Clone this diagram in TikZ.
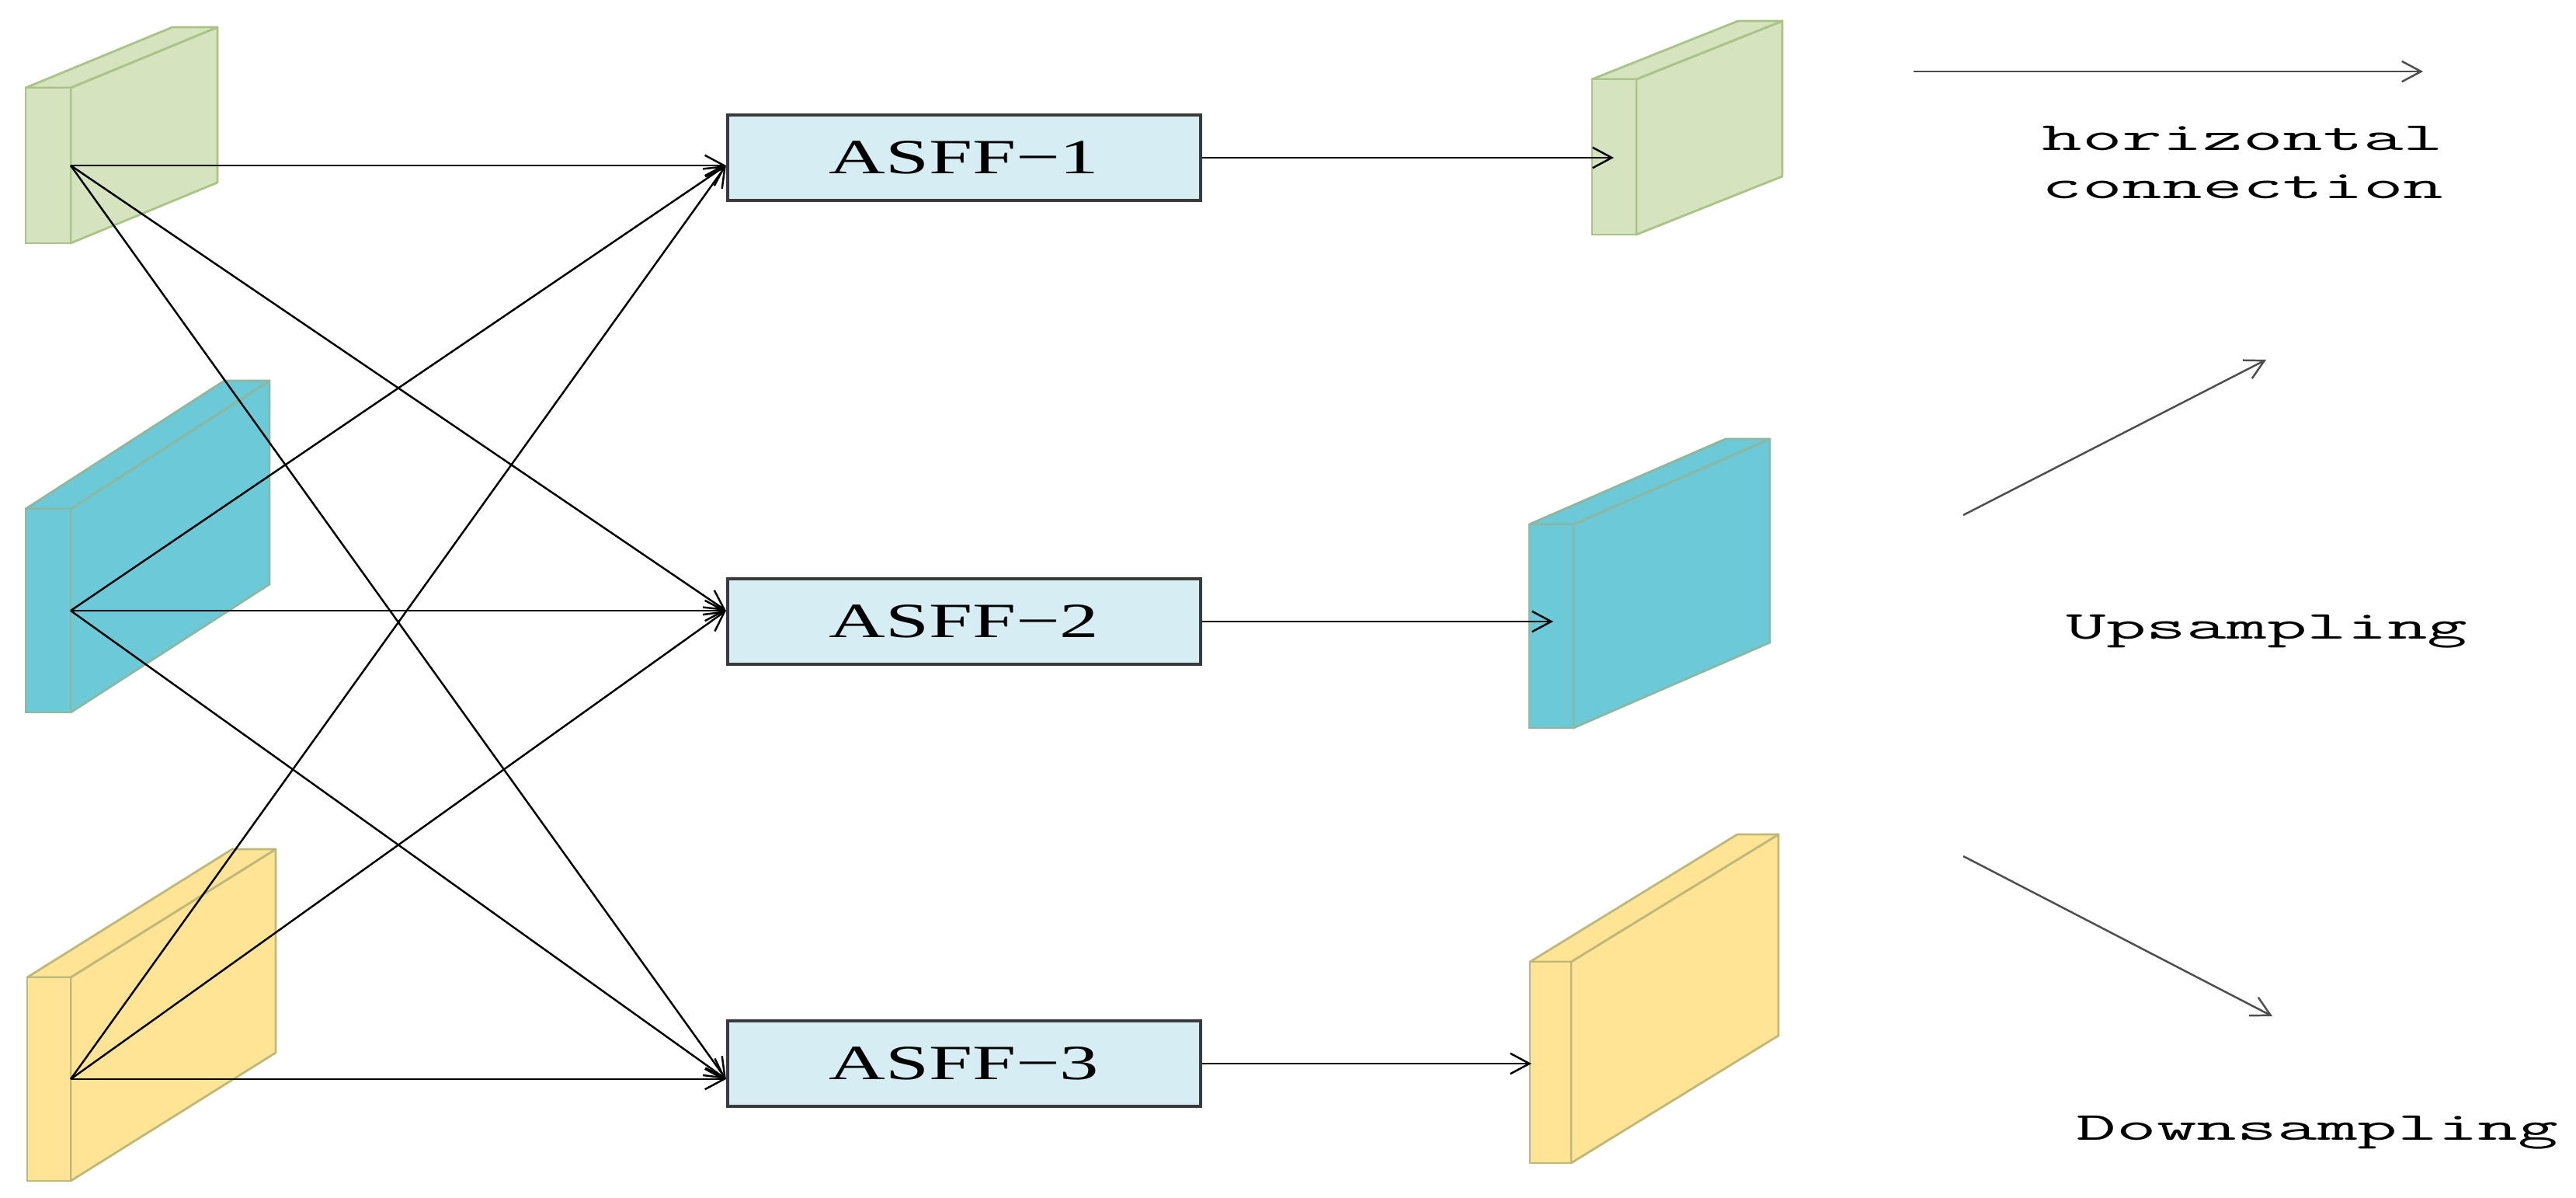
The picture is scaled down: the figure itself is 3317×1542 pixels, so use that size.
\documentclass[tikz,border=0pt]{standalone}
\usepackage{fontspec}
\usepackage{graphicx}
\usetikzlibrary{arrows.meta}
\newfontfamily\asfffont{Liberation Serif}
\definecolor{gfill}{HTML}{D5E3BE}
\definecolor{gline}{HTML}{A9C486}
\definecolor{cfill}{HTML}{6CC9D8}
\definecolor{cline}{HTML}{8CB8A0}
\definecolor{yfill}{HTML}{FFE496}
\definecolor{yline}{HTML}{BEB978}
\definecolor{boxfill}{HTML}{D6EDF3}
\definecolor{boxline}{HTML}{3A3A3A}
\definecolor{legline}{HTML}{4D4D4D}
% #1 x1, #2 y1, #3 x2, #4 y2, #5 dx, #6 dy, #7 fill, #8 stroke
\newcommand\featblock[8]{%
  \filldraw[fill=#7,draw=#8,line width=0.8pt,line join=round]
    (#3,#2) -- ({#3+#5},{#2+#6}) -- ({#3+#5},{#4+#6}) -- (#3,#4) -- cycle;
  \filldraw[fill=#7,draw=#8,line width=0.8pt,line join=round]
    (#1,#2) -- ({#1+#5},{#2+#6}) -- ({#3+#5},{#2+#6}) -- (#3,#2) -- cycle;
  \filldraw[fill=#7,draw=#8,line width=0.8pt] (#1,#2) rectangle (#3,#4);
}
\newcommand\widetxt[1]{\scalebox{1.97}[1]{#1}}
\newcommand\asfftxt[1]{\scalebox{1.59}[1]{#1}}
\begin{document}
\begin{tikzpicture}[x=0.01cm,y=-0.01cm,
  asff/.style={draw=boxline,fill=boxfill,line width=1.1pt,rectangle,
    minimum width=6.09cm,minimum height=1.10cm,inner sep=0pt,
    font=\asfffont\fontsize{18}{21}\selectfont},
  legtext/.style={inner sep=0pt,align=center,
    font=\ttfamily\fontsize{14.5}{17.6}\selectfont},
  arr/.style={-{Straight Barb[length=7pt,width=7.5pt]},line width=0.7pt,black},
  legarr/.style={-{Straight Barb[length=7pt,width=7.5pt]},line width=0.7pt,legline}]
\useasboundingbox (0,0) rectangle (3317,1542);
\fill[white] (0,0) rectangle (3317,1542);

% left feature blocks
\featblock{33}{113}{91}{313}{189}{-78}{gfill}{gline}
\featblock{33}{655}{91}{917}{256}{-165}{cfill}{cline}
\featblock{35}{1258}{91}{1520}{264}{-165}{yfill}{yline}
\coordinate (L1) at (91,213);
\coordinate (L2) at (91,786);
\coordinate (L3) at (91,1389);

% ASFF boxes
\node[asff] (a1) at (1241.5,203) {\asfftxt{ASFF−1}};
\node[asff] (a2) at (1241.5,800) {\asfftxt{ASFF−2}};
\node[asff] (a3) at (1241.5,1369) {\asfftxt{ASFF−3}};

% right feature blocks
\featblock{2050}{102}{2107}{302}{188}{-75}{gfill}{gline}
\featblock{1969}{675}{2026}{937}{253}{-110}{cfill}{cline}
\featblock{1970}{1238}{2023}{1497}{267}{-164}{yfill}{yline}
\coordinate (R1) at (2078,203);
\coordinate (R2) at (2000,800);
\coordinate (R3) at (1972,1369);

% connections into ASFF
\foreach \s in {L1,L2,L3}{
  \draw[arr] (\s) -- (a1.west |- L1);
  \draw[arr] (\s) -- (a2.west |- L2);
  \draw[arr] (\s) -- (a3.west |- L3);
}
% outputs
\draw[arr] (a1.east) -- (R1);
\draw[arr] (a2.east) -- (R2);
\draw[arr] (a3.east) -- (R3);

% legend
\coordinate (h0) at (2464,92);
\coordinate (h1) at (3120,92);
\coordinate (u0) at (2528,663);
\coordinate (u1) at (2918,463);
\coordinate (d0) at (2528,1102);
\coordinate (d1) at (2926,1308);
\draw[legarr] (h0) -- (h1);
\draw[legarr] (u0) -- (u1);
\draw[legarr] (d0) -- (d1);
\node[legtext,anchor=base] (th) at (2888,255) {\widetxt{horizontal}\\\widetxt{connection}};
\node[legtext,anchor=base] (tu) at (2919,822) {\widetxt{Upsampling}};
\node[legtext,anchor=base] (td) at (2984,1467) {\widetxt{Downsampling}};
\end{tikzpicture}
\end{document}
